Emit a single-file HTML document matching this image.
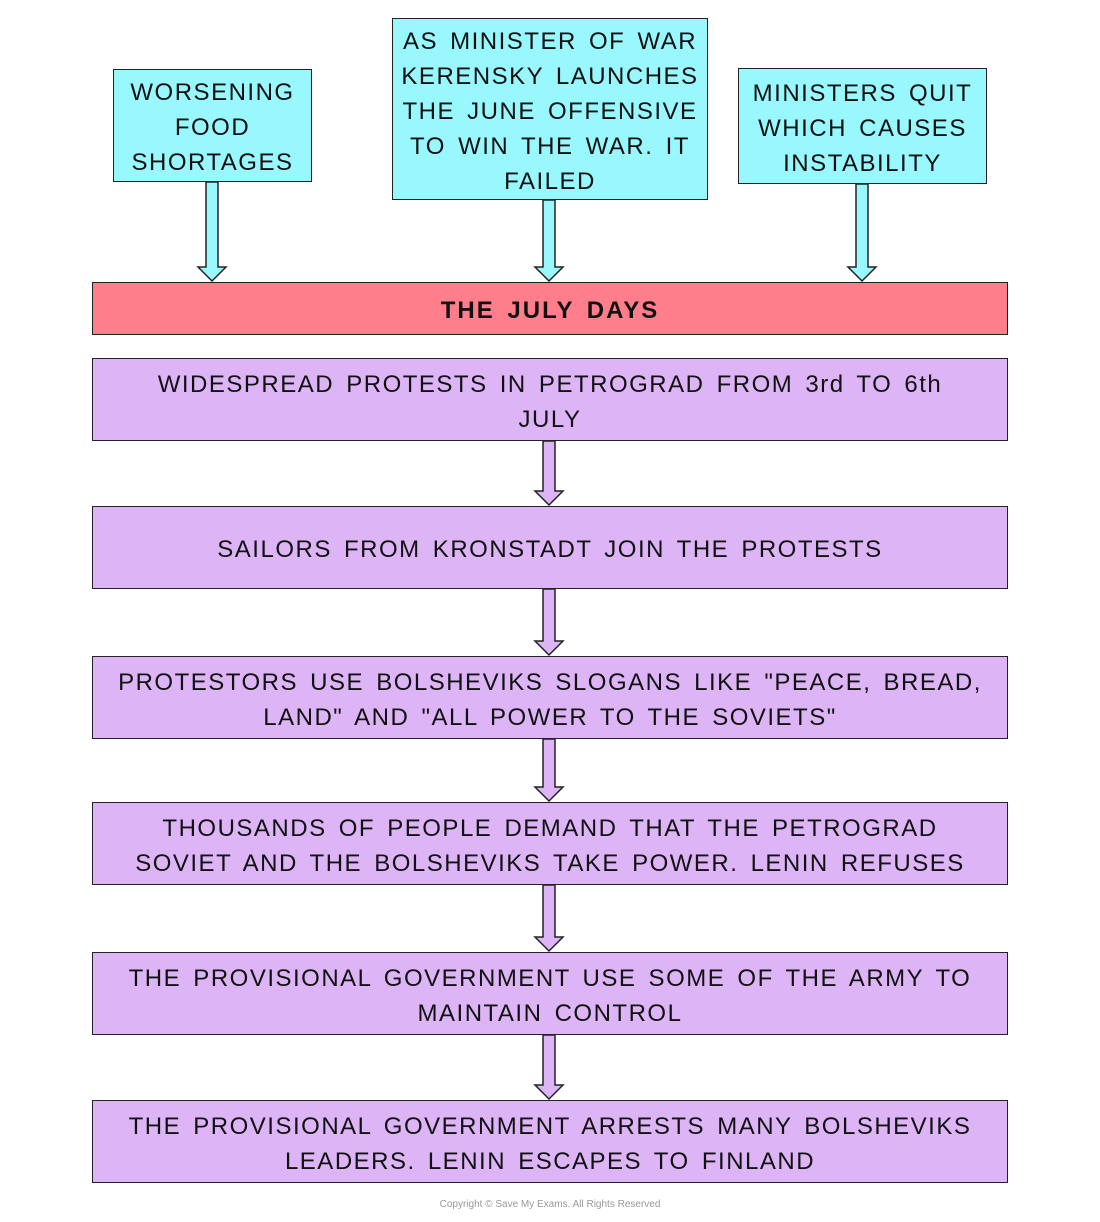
<!DOCTYPE html>
<html><head><meta charset="utf-8"><style>
body{margin:0;width:1100px;height:1222px;background:#fff;position:relative;overflow:hidden;font-family:"Liberation Sans",sans-serif;}
.b{position:absolute;box-sizing:border-box;border:1.5px solid #222;display:flex;align-items:center;justify-content:center;text-align:center;font-size:24px;line-height:35px;letter-spacing:1.5px;word-spacing:4px;color:#111;padding-top:4px;}
.c{background:#98f8fe}.p{background:#ddb5f7}.r{background:#fe7f8b;font-weight:bold;letter-spacing:2px}
svg{position:absolute;left:0;top:0}
</style></head><body>
<div class="b c" style="left:113px;top:69px;width:199px;height:113px">WORSENING<br>FOOD<br>SHORTAGES</div>
<div class="b c" style="left:392px;top:18px;width:316px;height:182px">AS MINISTER OF WAR<br>KERENSKY LAUNCHES<br>THE JUNE OFFENSIVE<br>TO WIN THE WAR. IT<br>FAILED</div>
<div class="b c" style="left:738px;top:68px;width:249px;height:116px">MINISTERS QUIT<br>WHICH CAUSES<br>INSTABILITY</div>
<div class="b r" style="left:92px;top:282px;width:916px;height:53px">THE JULY DAYS</div>
<div class="b p" style="left:92px;top:358px;width:916px;height:83px">WIDESPREAD PROTESTS IN PETROGRAD FROM 3rd TO 6th<br>JULY</div>
<div class="b p" style="left:92px;top:506px;width:916px;height:83px">SAILORS FROM KRONSTADT JOIN THE PROTESTS</div>
<div class="b p" style="left:92px;top:656px;width:916px;height:83px">PROTESTORS USE BOLSHEVIKS SLOGANS LIKE "PEACE, BREAD,<br>LAND" AND "ALL POWER TO THE SOVIETS"</div>
<div class="b p" style="left:92px;top:802px;width:916px;height:83px">THOUSANDS OF PEOPLE DEMAND THAT THE PETROGRAD<br>SOVIET AND THE BOLSHEVIKS TAKE POWER. LENIN REFUSES</div>
<div class="b p" style="left:92px;top:952px;width:916px;height:83px">THE PROVISIONAL GOVERNMENT USE SOME OF THE ARMY TO<br>MAINTAIN CONTROL</div>
<div class="b p" style="left:92px;top:1100px;width:916px;height:83px">THE PROVISIONAL GOVERNMENT ARRESTS MANY BOLSHEVIKS<br>LEADERS. LENIN ESCAPES TO FINLAND</div>
<svg width="1100" height="1222" stroke="#222" stroke-width="1.5">
<g fill="#98f8fe">
<polygon points="206,182 218,182 218,267 226,267 212,281 198,267 206,267"/>
<polygon points="543,200 555,200 555,267 563,267 549,281 535,267 543,267"/>
<polygon points="856,184 868,184 868,267 876,267 862,281 848,267 856,267"/>
</g>
<g fill="#ddb5f7">
<polygon points="543,441 555,441 555,491 563,491 549,505 535,491 543,491"/>
<polygon points="543,589 555,589 555,641 563,641 549,655 535,641 543,641"/>
<polygon points="543,739 555,739 555,787 563,787 549,801 535,787 543,787"/>
<polygon points="543,885 555,885 555,937 563,937 549,951 535,937 543,937"/>
<polygon points="543,1035 555,1035 555,1085 563,1085 549,1099 535,1085 543,1085"/>
</g>
</svg>
<div style="position:absolute;left:0;width:1100px;top:1199px;text-align:center;font-size:10px;color:#999">Copyright © Save My Exams. All Rights Reserved</div>
</body></html>
